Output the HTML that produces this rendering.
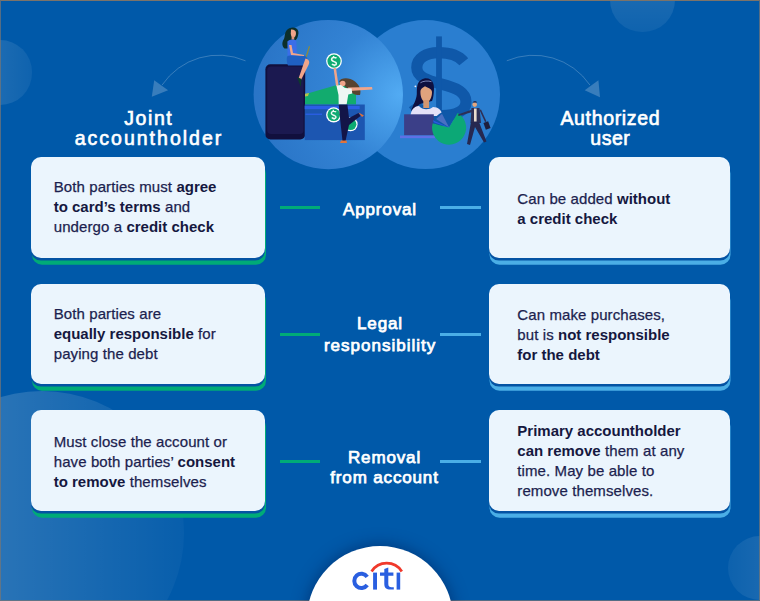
<!DOCTYPE html>
<html><head><meta charset="utf-8">
<style>
html,body{margin:0;padding:0;width:760px;height:601px;overflow:hidden;background:#0059a9;}
#w{position:relative;width:760px;height:601px;overflow:hidden;background:#0059a9;font-family:"Liberation Sans",sans-serif;}
.abs{position:absolute;}
.dc{position:absolute;border-radius:50%;}
.h{position:absolute;color:#fff;font-weight:400;-webkit-text-stroke:0.65px #fff;font-size:19.5px;line-height:20px;text-align:center;white-space:nowrap;}
.card{position:absolute;background:#ebf5fd;border-radius:10px;}
.lc{left:31px;width:234px;box-shadow:0 2.6px 0 #0453a3,1px 6.8px 0 #00ab77;}
.rc{left:489.3px;width:240.7px;box-shadow:0 2.6px 0 #0453a3,0.5px 6.8px 0 #4aaee6;}
.t{position:absolute;color:#1c1f4f;font-size:15px;line-height:20px;white-space:nowrap;-webkit-text-stroke:0.25px #1c1f4f;letter-spacing:0.1px;}
.t b{font-weight:700;color:#15183f;-webkit-text-stroke:0;letter-spacing:0;}
.lab{position:absolute;color:#fff;font-weight:400;-webkit-text-stroke:0.75px #fff;letter-spacing:0.85px;font-size:17px;line-height:21px;text-align:center;white-space:nowrap;left:280px;width:200px;}
.gl{position:absolute;left:279.5px;width:40.5px;height:3px;background:#00ab77;}
.bl{position:absolute;left:440px;width:40.5px;height:3px;background:#4aaee6;}
#bd{position:absolute;left:0;top:0;width:760px;height:601px;box-sizing:border-box;border:1px solid rgba(118,118,118,.72);border-top-color:#7c7369;}
</style></head><body><div id="w">
<!-- decorative circles -->
<div class="dc" style="left:-32.3px;top:40.4px;width:64.6px;height:64.6px;background:linear-gradient(90deg,rgba(255,255,255,.16),rgba(255,255,255,.06));"></div>
<div class="dc" style="left:610.1px;top:-32.4px;width:64.8px;height:64.8px;background:linear-gradient(180deg,rgba(255,255,255,.14),rgba(255,255,255,.06));"></div>
<div class="dc" style="left:728px;top:536px;width:64px;height:64px;background:linear-gradient(270deg,rgba(255,255,255,.14),rgba(255,255,255,.05));"></div>
<div class="dc" style="left:-100.5px;top:391px;width:284px;height:284px;background:linear-gradient(90deg,rgba(255,255,255,.16) 35%,rgba(255,255,255,.03) 100%);"></div>

<!-- arrows -->
<svg class="abs" style="left:0;top:0" width="760" height="601">
<path d="M245.5 60.8 A68 68 0 0 0 162.1 85" fill="none" stroke="rgba(255,255,255,.22)" stroke-width="1"/>
<polygon points="154.2,80.3 168.1,90.2 151.8,96.8" fill="rgba(255,255,255,.22)"/>
<path d="M506.8 60.8 A68 68 0 0 1 589.9 85" fill="none" stroke="rgba(255,255,255,.22)" stroke-width="1"/>
<polygon points="598.4,80.3 584.7,90.2 600,97.2" fill="rgba(255,255,255,.22)"/>
</svg>

<!-- illustration -->
<svg class="abs" style="left:0;top:0" width="760" height="601">
<defs>
<radialGradient id="lg1" cx="0.98" cy="0.5" r="0.95"><stop offset="0" stop-color="#52abf3"/><stop offset="0.5" stop-color="#3383d4"/><stop offset="1" stop-color="#2a75c7"/></radialGradient>
<clipPath id="cr"><circle cx="425.5" cy="94.6" r="74.5"/></clipPath>
</defs>
<circle cx="425.5" cy="94.6" r="74.5" fill="#2a7ed0"/>
<g clip-path="url(#cr)">
<path d="M463.8 61.8 C458 54.5 448 52.6 438.4 52.6 C426 52.6 416.8 58.5 416.8 67.5 C416.8 77.5 428 80.5 441 84 C457 88 466 92.5 466 102 C466 111.5 455 115.5 442 115.5 C428 115.5 418 110.5 413.5 104" fill="none" stroke="#0f58a9" stroke-width="11.2"/>
<rect x="436.1" y="36.4" width="5.8" height="100" fill="#0f58a9"/>
</g>
<circle cx="328.3" cy="94.6" r="74.7" fill="url(#lg1)"/>
<!-- right scene: woman at laptop -->
<path d="M411 111 C413 105 416.5 100 416.8 94 C417 88 416 80 425 78.2 C434 78 434.5 86 433.8 92 C433.5 96 433 99 432 101 L420 104 Z" fill="#0e1040"/>
<path d="M420.4 92 C420.5 88.5 423 87.5 425 86.3 C427 87.5 431.8 88.5 432 92 C432 98 429.5 102 426.2 102 C422.8 102 420.4 98 420.4 92 Z" fill="#e0a37d"/>
<rect x="423.3" y="100" width="5.8" height="8" fill="#d49670"/>
<path d="M410.5 116 C411 110 414 106.2 419 106 C421 108.5 423.5 109.2 426.2 109.2 C429 109.2 431 108.5 433 107 C438 107 442 110 442.5 116 Z" fill="#e4e1f7"/>
<path d="M420.4 82.8 C423 80.8 428.5 80.6 431.5 81.7" fill="none" stroke="#a9b6ea" stroke-width="0.7"/>
<circle cx="415.4" cy="86.3" r="0.9" fill="#e8ecff"/>
<rect x="404.1" y="114.3" width="29.7" height="21" fill="#3b3f88"/>
<rect x="400" y="135.6" width="35" height="2.6" fill="#5f70e6"/>
<path d="M449.1 127.6 L457.6 112.9 A17 17 0 0 0 432.6 123.5 Z" fill="#0f58a9"/><path d="M449.1 127.6 L457.6 112.9 A17 17 0 1 1 432.6 123.5 Z" fill="#0ca876"/>
<path d="M449.1 127.6 L436.1 118.9 L442 113.8 Z" fill="#4a70c2"/>
<path d="M449.1 127.6 L432.8 120.2 L434.2 122.6 Z" fill="#2c58e6"/>
<!-- businessman -->
<circle cx="474.7" cy="104.6" r="2.3" fill="#e3a67e"/>
<path d="M472.5 102.6 C473.5 100.8 476.5 100.8 477.2 102.5 Z" fill="#1c1c3c"/>
<path d="M471.5 108 L479.5 108 L481 123 L470.5 123 Z" fill="#2e2f55"/>
<rect x="474" y="108.5" width="2.6" height="13" fill="#e9dccf"/>
<path d="M472 109.5 L458 114.5 L458.5 116 L472.5 112 Z" fill="#2e2f55"/>
<path d="M479.5 110 L485 122 L486.5 121.5 L481 109.5 Z" fill="#2e2f55"/>
<rect x="484.5" y="122" width="5" height="7" fill="#1d1f3e" transform="rotate(-20 487 125.5)"/>
<path d="M471 122 L467 144 L470 145 L475 127 L484 142.5 L486.5 141.5 L479 122 Z" fill="#262850"/>
<!-- left scene -->
<rect x="265.4" y="64.3" width="39.8" height="75.1" rx="5" fill="#110f3d"/>
<rect x="267.2" y="66.4" width="36.4" height="67.5" rx="4" fill="#1b1950"/>
<path d="M305 104.5 L305 94.3 L336 85.2 C345 82.8 352 84 354 88 L356 95 L356 104.5 Z" fill="#12ab6e"/><path d="M305 93.8 L309 93 L308 96 L305 96.5 Z" fill="#b9c24a"/>
<rect x="304.7" y="104.5" width="60.1" height="35.6" fill="#1c56b1"/>
<rect x="304.7" y="106" width="55" height="3.2" fill="#2c5fe6"/>
<rect x="305.5" y="113.6" width="16.5" height="1.3" fill="#2c5fe6"/>
<g id="coin"><circle cx="334" cy="61.1" r="7.9" fill="#fff"/><circle cx="334" cy="61.1" r="6.6" fill="#0dab72"/><path transform="translate(334 61.1)" d="M2.5 -2.8 C1.6 -3.9 -2 -4.1 -2.4 -2.1 C-2.7 -0.1 -0.5 0.2 1 0.9 C3 1.7 2.8 3.9 0.5 3.9 C-0.5 3.9 -1.5 3.5 -2 2.9 M-0.4 -5.2 L-0.4 -3.9 M0.4 3.9 L0.4 5.2" fill="none" stroke="#eefaf4" stroke-width="1.5"/></g>
<g><circle cx="333.7" cy="114.8" r="7.6" fill="#fff"/><circle cx="333.7" cy="114.8" r="6.3" fill="#0dab72"/><path transform="translate(333.7 114.8) scale(0.95)" d="M2.5 -2.8 C1.6 -3.9 -2 -4.1 -2.4 -2.1 C-2.7 -0.1 -0.5 0.2 1 0.9 C3 1.7 2.8 3.9 0.5 3.9 C-0.5 3.9 -1.5 3.5 -2 2.9 M-0.4 -5.2 L-0.4 -3.9 M0.4 3.9 L0.4 5.2" fill="none" stroke="#eefaf4" stroke-width="1.5"/></g>
<g><circle cx="350.6" cy="124.3" r="7" fill="#fff"/><circle cx="350.6" cy="124.3" r="5.8" fill="#0dab72"/></g>
<!-- woman sitting on phone -->
<path d="M284.5 48.5 C281.5 46 282 41.5 284 39 C285 36.5 284.5 33 286.5 30.5 C288.5 27.8 293 26.8 296 28.2 C298.5 29.5 299 32.5 298 35.5 C297.5 38 296.5 40 294.5 41 C291 42.5 290 45.5 288.5 48.5 Z" fill="#0c2f2a"/>
<path d="M291 29.5 C293.5 29 296 30.5 296 33 C296 35.5 295 37.5 293.3 37.8 C291.8 38 291 36 290.8 33.5 Z" fill="#f0a58a"/>
<rect x="291.6" y="36.5" width="2.6" height="3.2" fill="#e0957a"/>
<path d="M287.4 41.5 C289 39 294 38.8 296.3 40.5 L297 56.1 L287.6 56.1 Z" fill="#3a6ee8"/>
<path d="M289 45 L291 55 L304 56.5 L304 55 L293 53 L291.5 45 Z" fill="#f0a58a"/>
<path d="M309.5 46.2 L306 57.3 L298.4 57.3" fill="none" stroke="#8d8b3c" stroke-width="1.2"/>
<path d="M286.8 58 C287 55.5 289 55.5 292 55.5 L305 56 C308 57 308.5 62 306 65.4 L288 65.4 C286.8 63 286.7 60 286.8 58 Z" fill="#1f60c2"/>
<path d="M305.5 58.5 C309.5 59.5 310 62.5 308.5 65 L301 80 L298.2 79.5 L303.5 64 Z" fill="#f0a58a"/>
<path d="M297 77 L301.5 79 L300.8 87 Z" fill="#0d3a2c"/>
<!-- jumping woman -->
<path d="M333.5 68 L336 86 L338.5 85.5 L336 68 Z" fill="#f0a58a"/>
<path d="M339 81.5 C341 77.5 349 77 355 81.5 C359.5 85 361.5 90 360 95 C355.5 95.5 351 93 348.5 89.5 Z" fill="#584330"/>
<circle cx="342.7" cy="83.5" r="2.8" fill="#f0a58a"/>
<path d="M348 87.5 L372 87 L372.5 89.5 L349 91 Z" fill="#f0a58a"/>
<path d="M336.4 85.6 L341 85 L345 88 L351.6 88.6 L352.3 93.5 L348.3 94.5 L346.6 104.5 L338.7 104.5 L338.5 95 Z" fill="#eef7f4"/>
<path d="M338.7 104.5 L347.4 104.5 L349 118 L358.5 113 L360.5 116 L349 125 L345.5 141 L342.5 141 L340 118 Z" fill="#131548"/>
<path d="M358.5 112.5 L364 115.5 L362 117 Z" fill="#e0743c"/>
<path d="M341 140.5 L346.5 140.5 L347 143 L340 143 Z" fill="#e0743c"/>
</svg>

<!-- headings -->
<div class="h" style="left:48px;width:200px;top:108px;"><span style="letter-spacing:1.6px;margin-right:-1.6px">Joint</span><br><span style="letter-spacing:2px;margin-right:-2px">accountholder</span></div>
<div class="h" style="left:510px;width:200px;top:108px;"><span style="letter-spacing:0.65px;margin-right:-0.65px">Authorized</span><br><span style="letter-spacing:0.5px;margin-right:-.5px">user</span></div>

<!-- cards -->
<div class="card lc" style="top:157px;height:100.5px;"></div>
<div class="card lc" style="top:283.5px;height:100.75px;"></div>
<div class="card lc" style="top:410px;height:100.6px;"></div>
<div class="card rc" style="top:157px;height:100.7px;"></div>
<div class="card rc" style="top:283.5px;height:100.75px;"></div>
<div class="card rc" style="top:410px;height:100.6px;"></div>

<div class="t" style="left:53.7px;top:176.6px;">Both parties must <b>agree</b><br><b>to card’s terms</b> and<br>undergo a <b>credit check</b></div>
<div class="t" style="left:53.7px;top:304.2px;">Both parties are<br><b>equally responsible</b> for<br>paying the debt</div>
<div class="t" style="left:53.7px;top:432px;">Must close the account or<br>have both parties’ <b>consent</b><br><b>to remove</b> themselves</div>
<div class="t" style="left:517.3px;top:189px;">Can be added <b>without</b><br><b>a credit check</b></div>
<div class="t" style="left:517.3px;top:304.7px;">Can make purchases,<br>but is <b>not responsible</b><br><b>for the debt</b></div>
<div class="t" style="left:517.3px;top:421.1px;"><b>Primary accountholder</b><br><b>can remove</b> them at any<br>time. May be able to<br>remove themselves.</div>

<!-- middle labels -->
<div class="gl" style="top:206px;"></div><div class="bl" style="top:206px;"></div>
<div class="gl" style="top:332.5px;"></div><div class="bl" style="top:332.5px;"></div>
<div class="gl" style="top:460.1px;"></div><div class="bl" style="top:460.1px;"></div>
<div class="lab" style="top:199px;">Approval</div>
<div class="lab" style="top:312.65px;line-height:22.7px;">Legal<br><span style="letter-spacing:1px;margin-right:-.15px">responsibility</span></div>
<div class="lab" style="top:447.7px;left:284.5px;line-height:20.6px;">Removal<br>from account</div>

<div id="bd"></div>
<!-- citi -->
<div class="dc" style="left:306.6px;top:546.3px;width:146.8px;height:146.8px;background:#fff;box-shadow:0 0 15px 1px rgba(0,25,80,.5);"></div>
<svg class="abs" style="left:0;top:0" width="760" height="601">
<path d="M367.2 576.8 A7.1 7.1 0 1 0 367.2 585.0" fill="none" stroke="#2a5fe0" stroke-width="4"/>
<rect x="373.1" y="572.6" width="3.9" height="17" fill="#2a5fe0"/>
<path d="M384.3 569 L388.3 567.5 L388.3 572.6 L393.4 572.6 L393.4 575.8 L388.3 575.8 L388.3 584 C388.3 586.5 389.5 587.2 391.5 587.2 L393.8 587.2 L393.8 589.6 L390.5 589.6 C386.3 589.6 384.3 587.8 384.3 584 L384.3 575.8 L380 575.8 L380 572.6 L384.3 572.6 Z" fill="#2a5fe0"/>
<rect x="396.6" y="572.6" width="3.6" height="17" fill="#2a5fe0"/>
<path d="M371.6 571.4 A17.9 17.9 0 0 1 401.8 571.4" fill="none" stroke="#f0392b" stroke-width="2.8"/>
</svg>

</div></body></html>
